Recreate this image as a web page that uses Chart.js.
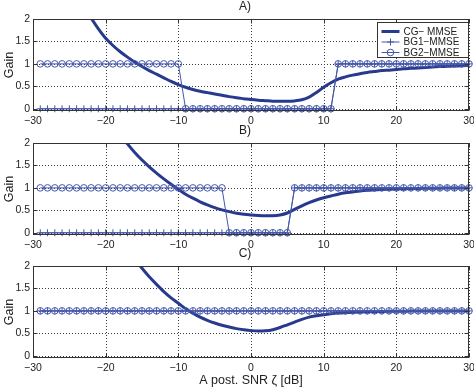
<!DOCTYPE html>
<html><head><meta charset="utf-8">
<script src="https://cdn.jsdelivr.net/npm/chart.js@4.4.1/dist/chart.umd.min.js"></script>
<style>
html,body{margin:0;padding:0;background:#fff;}
#wrap{position:relative;width:474px;height:391px;overflow:hidden;background:#fff;}
canvas{position:absolute;left:0;top:0;}
</style></head><body>
<div id="wrap">
<canvas id="cA" width="474" height="391"></canvas>
<canvas id="cB" width="474" height="391"></canvas>
<canvas id="cC" width="474" height="391"></canvas>
</div>
<script>
// ---------- data ----------
const panelLabels = ['A)', 'B)', 'C)'];
const seriesNames = ['CG\u2212 MMSE', 'BG1\u2212MMSE', 'BG2\u2212MMSE'];
const xTicks = [-30, -20, -10, 0, 10, 20, 30];
const yTicks = [0, 0.5, 1, 1.5, 2];
const xLabel = 'A post. SNR \u03b6 [dB]';
const yLabel = 'Gain';

const cgSnr = [-30,-29,-28,-27,-26,-25,-24,-23,-22,-21,-20,-19,-18,-17,-16,-15,-14,-13,-12,-11,
  -10,-9,-8,-7,-6,-5,-4,-3,-2,-1,0,1,2,3,4,5,6,7,8,9,10,11,12,13,14,15,16,17,18,19,20,
  21,22,23,24,25,26,27,28,29,30];

const cgA = [null,null,null,null,null,null,null,
  2.28,2.02,1.78,1.57,1.41,1.27,1.15,1.04,0.94,0.85,0.77,0.69,0.61,0.54,0.48,0.43,0.39,0.36,0.33,
  0.30,0.27,0.245,0.225,0.205,0.19,0.18,0.17,0.165,0.165,0.175,0.20,0.26,0.36,0.48,0.58,0.66,0.71,
  0.75,0.78,0.81,0.83,0.85,0.86,0.875,0.89,0.90,0.91,0.92,0.93,0.94,0.945,0.95,0.96,0.965];

const cgB = [null,null,null,null,null,null,null,null,null,null,null,null,
  2.2,1.98,1.79,1.62,1.47,1.33,1.2,1.08,0.97,0.86,0.77,0.69,0.62,0.56,0.51,0.47,0.435,0.41,
  0.395,0.385,0.38,0.38,0.395,0.44,0.52,0.60,0.67,0.73,0.78,0.82,0.86,0.89,0.91,0.93,0.945,
  0.955,0.965,0.97,0.975,0.98,0.985,0.988,0.99,0.992,0.994,0.996,0.997,0.998,1.0];

const cgC = [null,null,null,null,null,null,null,null,null,null,null,null,null,null,
  2.15,1.95,1.76,1.59,1.43,1.29,1.17,1.05,0.95,0.86,0.79,0.73,0.68,0.64,0.605,0.58,0.56,0.55,
  0.555,0.58,0.63,0.69,0.75,0.81,0.86,0.89,0.915,0.935,0.95,0.96,0.968,0.974,0.979,0.983,
  0.986,0.989,0.991,0.993,0.995,0.996,0.997,0.998,0.998,0.999,0.999,1.0,1.0];

const bgSnr = [-29,-28,-27,-26,-25,-24,-23,-22,-21,-20,-19,-18,-17,-16,-15,-14,-13,-12,-11,-10,
  -9,-8,-7,-6,-5,-4,-3,-2,-1,0,1,2,3,4,5,6,7,8,9,10,11,12,13,14,15,16,17,18,19,20,
  21,22,23,24,25,26,27,28,29,30];

const bg1A = [0,0,0,0,0,0,0,0,0,0, 0,0,0,0,0,0,0,0,0,0, 0,0,0,0,0,0,0,0,0,0,
  0,0,0,0,0,0,0,0,0,0, 0,1,1,1,1,1,1,1,1,1, 1,1,1,1,1,1,1,1,1,1];
const bg2A = [1,1,1,1,1,1,1,1,1,1, 1,1,1,1,1,1,1,1,1,1, 0,0,0,0,0,0,0,0,0,0,
  0,0,0,0,0,0,0,0,0,0, 0,1,1,1,1,1,1,1,1,1, 1,1,1,1,1,1,1,1,1,1];
const bg1B = [0,0,0,0,0,0,0,0,0,0, 0,0,0,0,0,0,0,0,0,0, 0,0,0,0,0,0,0,0,0,0,
  0,0,0,0,0,1,1,1,1,1, 1,1,1,1,1,1,1,1,1,1, 1,1,1,1,1,1,1,1,1,1];
const bg2B = [1,1,1,1,1,1,1,1,1,1, 1,1,1,1,1,1,1,1,1,1, 1,1,1,1,1,1,0,0,0,0,
  0,0,0,0,0,1,1,1,1,1, 1,1,1,1,1,1,1,1,1,1, 1,1,1,1,1,1,1,1,1,1];
const bg1C = [1,1,1,1,1,1,1,1,1,1, 1,1,1,1,1,1,1,1,1,1, 1,1,1,1,1,1,1,1,1,1,
  1,1,1,1,1,1,1,1,1,1, 1,1,1,1,1,1,1,1,1,1, 1,1,1,1,1,1,1,1,1,1];
const bg2C = [1,1,1,1,1,1,1,1,1,1, 1,1,1,1,1,1,1,1,1,1, 1,1,1,1,1,1,1,1,1,1,
  1,1,1,1,1,1,1,1,1,1, 1,1,1,1,1,1,1,1,1,1, 1,1,1,1,1,1,1,1,1,1];

// ---------- style ----------
const CG_COLOR = '#283a8e';
const BG_COLOR = '#4557aa';
const TEXT_COLOR = '#222';
const FRAME_COLOR = '#333';
const GRID_COLOR = '#3a3a3a';
const FONT = '"Liberation Sans", Arial, Helvetica, sans-serif';
Chart.defaults.font.family = FONT;
Chart.defaults.font.size = 10.5;
Chart.defaults.color = TEXT_COLOR;

const fmtNum = v => (v < 0 ? '\u2212' + Math.abs(v) : String(v));

// dotted grid at the scale ticks, drawn below the data
const dottedGrid = {
  id: 'dottedGrid',
  beforeDatasetsDraw(chart) {
    const ctx = chart.ctx, ca = chart.chartArea;
    const xs = chart.scales.x, ys = chart.scales.y;
    ctx.save();
    ctx.strokeStyle = GRID_COLOR;
    ctx.lineWidth = 1;
    ctx.setLineDash([1, 2]);
    ctx.beginPath();
    xs.ticks.forEach(t => {
      const px = Math.round(xs.getPixelForValue(t.value)) + 0.5;
      ctx.moveTo(px, ca.top); ctx.lineTo(px, ca.bottom);
    });
    ys.ticks.forEach(t => {
      const py = Math.round(ys.getPixelForValue(t.value)) + 0.5;
      ctx.moveTo(ca.left, py); ctx.lineTo(ca.right, py);
    });
    ctx.stroke();
    ctx.restore();
  }
};

// frame + inward ticks + panel label
const framePlugin = {
  id: 'frame',
  afterDraw(chart, args, opts) {
    const ctx = chart.ctx, ca = chart.chartArea;
    const xs = chart.scales.x, ys = chart.scales.y;
    const L = Math.round(ca.left) + 0.5, R = Math.round(ca.right) - 0.5;
    const T = Math.round(ca.top) + 0.5, B = Math.round(ca.bottom) - 0.5;
    ctx.save();
    ctx.strokeStyle = FRAME_COLOR;
    ctx.lineWidth = 1;
    ctx.setLineDash([]);
    ctx.strokeRect(L, T, R - L, B - T);
    const tl = 4;
    ctx.beginPath();
    xs.ticks.forEach(t => {
      const px = Math.round(xs.getPixelForValue(t.value)) + 0.5;
      ctx.moveTo(px, B); ctx.lineTo(px, B - tl);
      ctx.moveTo(px, T); ctx.lineTo(px, T + tl);
    });
    ys.ticks.forEach(t => {
      const py = Math.round(ys.getPixelForValue(t.value)) + 0.5;
      ctx.moveTo(L, py); ctx.lineTo(L + tl, py);
      ctx.moveTo(R, py); ctx.lineTo(R - tl, py);
    });
    ctx.stroke();
    ctx.fillStyle = TEXT_COLOR;
    ctx.font = '12px ' + FONT;
    ctx.textAlign = 'center';
    ctx.textBaseline = 'middle';
    ctx.fillText(opts.text, (ca.left + ca.right) / 2 - 6, ca.top - 12);
    ctx.restore();
  }
};

// inset legend (top-right inside the axes)
const insetLegend = {
  id: 'insetLegend',
  afterDraw(chart, args, opts) {
    if (!opts.show) return;
    const ctx = chart.ctx, ca = chart.chartArea;
    const w = 91, h = 35;
    const x0 = Math.round(ca.right) - w - 0.5, y0 = Math.round(ca.top) + 3.5;
    ctx.save();
    ctx.setLineDash([]);
    ctx.fillStyle = '#fff';
    ctx.fillRect(x0, y0, w, h);
    ctx.strokeStyle = FRAME_COLOR;
    ctx.lineWidth = 1;
    ctx.strokeRect(x0, y0, w, h);
    const rows = [y0 + 9, y0 + 19.5, y0 + 30];
    const lx1 = x0 + 4, lx2 = x0 + 22, tx = x0 + 26;
    chart.data.datasets.forEach((ds, i) => {
      const y = rows[i];
      ctx.strokeStyle = ds.borderColor;
      ctx.lineWidth = ds.borderWidth;
      ctx.beginPath(); ctx.moveTo(lx1, y); ctx.lineTo(lx2, y); ctx.stroke();
      if (ds.pointRadius > 0) {
        ctx.fillStyle = 'rgba(0,0,0,0)';
        ctx.strokeStyle = ds.borderColor;
        ctx.lineWidth = 1;
        Chart.helpers.drawPoint(ctx, {
          pointStyle: ds.pointStyle, radius: ds.pointRadius, borderWidth: 1, rotation: 0
        }, (lx1 + lx2) / 2, y);
      }
      ctx.fillStyle = TEXT_COLOR;
      ctx.font = '10px ' + FONT;
      ctx.textAlign = 'left';
      ctx.textBaseline = 'middle';
      ctx.fillText(ds.label, tx, y + 0.5);
    });
    ctx.restore();
  }
};

const panels = [
  {id: 'cA', label: panelLabels[0], cg: cgA, bg1: bg1A, bg2: bg2A, top: 19, bottom: 111, axisH: 15, legend: true, xTitle: false},
  {id: 'cB', label: panelLabels[1], cg: cgB, bg1: bg1B, bg2: bg2B, top: 143, bottom: 235, axisH: 15, legend: false, xTitle: false},
  {id: 'cC', label: panelLabels[2], cg: cgC, bg1: bg1C, bg2: bg2C, top: 266, bottom: 358, axisH: 33, legend: false, xTitle: true}
];

panels.forEach(p => {
  const H = 391;
  new Chart(document.getElementById(p.id), {
    type: 'line',
    data: {
      datasets: [
        {label: seriesNames[0], data: cgSnr.map((x, i) => ({x, y: p.cg[i]})),
         borderColor: CG_COLOR, backgroundColor: CG_COLOR, borderWidth: 3, pointRadius: 0,
         cubicInterpolationMode: 'monotone', clip: 0, order: 3},
        {label: seriesNames[1], data: bgSnr.map((x, i) => ({x, y: p.bg1[i]})),
         borderColor: BG_COLOR, backgroundColor: 'rgba(0,0,0,0)', borderWidth: 1,
         pointStyle: 'cross', pointRadius: 3.5, pointBorderWidth: 1, pointBorderColor: BG_COLOR,
         pointBackgroundColor: 'rgba(0,0,0,0)', clip: false, order: 2},
        {label: seriesNames[2], data: bgSnr.map((x, i) => ({x, y: p.bg2[i]})),
         borderColor: BG_COLOR, backgroundColor: 'rgba(0,0,0,0)', borderWidth: 1,
         pointStyle: 'circle', pointRadius: 3.3, pointBorderWidth: 1, pointBorderColor: BG_COLOR,
         pointBackgroundColor: 'rgba(0,0,0,0)', clip: false, order: 1}
      ]
    },
    options: {
      responsive: false,
      animation: false,
      events: [],
      layout: {padding: {top: p.top, bottom: H - p.bottom - p.axisH, left: 0, right: 5}},
      plugins: {
        legend: {display: false},
        tooltip: {enabled: false},
        frame: {text: p.label},
        insetLegend: {show: p.legend}
      },
      scales: {
        x: {
          type: 'linear', min: -30, max: 30,
          afterBuildTicks: s => { s.ticks = xTicks.map(v => ({value: v})); },
          afterFit: s => { s.height = p.axisH; s.paddingLeft = 0; s.paddingRight = 0; },
          ticks: {padding: 4, maxRotation: 0, callback: v => fmtNum(v), color: TEXT_COLOR},
          grid: {display: false, drawTicks: false},
          border: {display: false},
          title: {display: p.xTitle, text: xLabel, font: {size: 12.5}, color: TEXT_COLOR, padding: {top: 0, bottom: 3}}
        },
        y: {
          type: 'linear', min: -0.05, max: 2,
          afterBuildTicks: s => { s.ticks = yTicks.map(v => ({value: v})); },
          afterFit: s => { s.width = 33; s.paddingTop = 0; s.paddingBottom = 0; },
          ticks: {padding: 3, callback: v => fmtNum(v), color: TEXT_COLOR},
          grid: {display: false, drawTicks: false},
          border: {display: false},
          title: {display: true, text: yLabel, font: {size: 12.5}, color: TEXT_COLOR, padding: {top: 2, bottom: 0}}
        }
      }
    },
    plugins: [dottedGrid, framePlugin, insetLegend]
  });
});
</script>
</body></html>
